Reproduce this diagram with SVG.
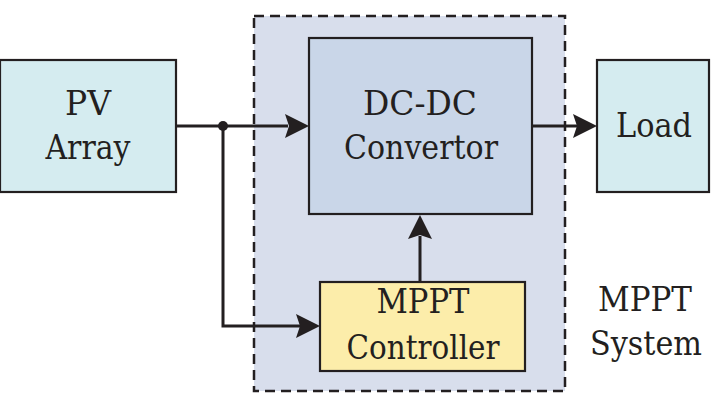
<svg xmlns="http://www.w3.org/2000/svg" width="712" height="401" viewBox="0 0 712 401">
<defs>
<style>
.box{stroke:#231f20;stroke-width:2.2}
.t{font-family:"DejaVu Serif Condensed","DejaVu Serif",serif;font-stretch:condensed;font-size:34px;fill:#231f20;text-anchor:middle}
.w{stroke:#231f20;stroke-width:3;fill:none}
.a{fill:#231f20}
</style>
</defs>
<rect width="712" height="401" fill="#ffffff"/>
<g id="mppt-system">
<rect x="254" y="16" width="311" height="375" fill="#d8deec" stroke="#231f20" stroke-width="2.5" stroke-dasharray="10,6"/>
<text class="t" x="645" y="311" textLength="94" lengthAdjust="spacingAndGlyphs">MPPT</text>
<text class="t" x="646" y="355" textLength="112" lengthAdjust="spacingAndGlyphs">System</text>
</g>
<g id="pv-array">
<rect class="box" x="0" y="60" width="176" height="132" fill="#d5ecf0"/>
<text class="t" x="88" y="115" textLength="46" lengthAdjust="spacingAndGlyphs">PV</text>
<text class="t" x="88" y="159" textLength="85" lengthAdjust="spacingAndGlyphs">Array</text>
</g>
<g id="dcdc">
<rect class="box" x="309" y="38" width="223" height="176" fill="#c9d6e8"/>
<text class="t" x="420" y="115" textLength="114" lengthAdjust="spacingAndGlyphs">DC-DC</text>
<text class="t" x="421" y="159" textLength="154" lengthAdjust="spacingAndGlyphs">Convertor</text>
</g>
<g id="load">
<rect class="box" x="597" y="60" width="112" height="132" fill="#d5ecf0"/>
<text class="t" x="654" y="137" textLength="76" lengthAdjust="spacingAndGlyphs">Load</text>
</g>
<g id="controller">
<rect class="box" x="320" y="282" width="205" height="89" fill="#fcedaa"/>
<text class="t" x="423" y="313" textLength="93" lengthAdjust="spacingAndGlyphs">MPPT</text>
<text class="t" x="423" y="359" textLength="153" lengthAdjust="spacingAndGlyphs">Controller</text>
</g>
<g id="connectors">
<path class="w" d="M176,126 H288"/>
<path class="a" d="M309,126 L285,114 L289,126 L285,138 Z"/>
<circle class="a" cx="223" cy="126" r="5"/>
<path class="w" d="M223,126 V326 H300"/>
<path class="a" d="M320,326 L296,314 L300,326 L296,338 Z"/>
<path class="w" d="M420,282 V236"/>
<path class="a" d="M420,215 L408,239 L420,235 L432,239 Z"/>
<path class="w" d="M532,126 H577"/>
<path class="a" d="M597,126 L573,114 L577,126 L573,138 Z"/>
</g>
</svg>
